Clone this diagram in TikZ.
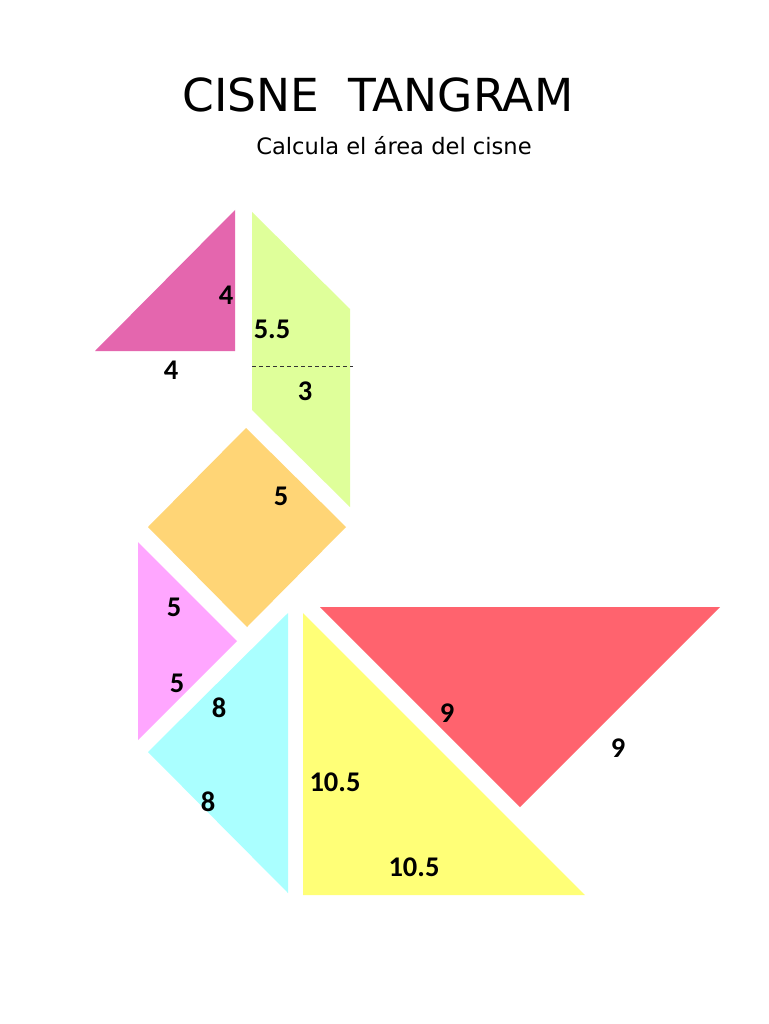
\documentclass[tikz,border=0pt]{standalone}
\usepackage{fontspec}
\setmainfont{DejaVu Sans}
\newfontfamily\numfont{Carlito}
\usepackage{tikz}
\usepackage{xcolor}
\definecolor{pinkA}{HTML}{E466AE}
\definecolor{greenA}{HTML}{DFFF9A}
\definecolor{orangeA}{HTML}{FFD576}
\definecolor{violetA}{HTML}{FFA6FF}
\definecolor{cyanA}{HTML}{AAFFFF}
\definecolor{yellowA}{HTML}{FFFF77}
\definecolor{redA}{HTML}{FF636E}

\begin{document}
\begin{tikzpicture}[x=1pt,y=-1pt]
\tikzstyle{every node}+=[inner sep=0pt]
\tikzstyle{num}=[font=\numfont\bfseries\fontsize{28.5}{28.5}\selectfont]
\useasboundingbox (0,0) rectangle (768,1024);
\fill [white] (0,0) rectangle (768,1024);
\node (title) at (378,95) {\fontsize{45.5}{45.5}\selectfont CISNE\ \ TANGRAM};
\node (subtitle) at (394,146) {\fontsize{22.6}{22.6}\selectfont Calcula el área del cisne};
% head
\fill [pinkA] (235,210) -- (235,351) -- (95,351) -- cycle;
\node [num] (h1) at (226,295) {4};
\node [num] (h2) at (171,370) {4};
% neck
\fill [greenA] (252,212) -- (350,309) -- (350,507) -- (252,410) -- cycle;
\draw [black!80, dashed, dash pattern=on 4pt off 3pt] (252,366) -- (353,366);
\node [num] (n1) at (272,329) {5.5};
\node [num] (n2) at (305,391) {3};
% body
\fill [orangeA] (246,428) -- (346,527) -- (247,627) -- (148,527) -- cycle;
\node [num] (s1) at (281,496) {5};
\fill [violetA] (138,542) -- (237,641) -- (138,740) -- cycle;
\node [num] (v1) at (174,607) {5};
\node [num] (v2) at (177,683) {5};
\fill [cyanA] (288,613) -- (288,893) -- (148,752) -- cycle;
\node [num] (c1) at (219,708) {8};
\node [num] (c2) at (208,802) {8};
\fill [yellowA] (303,613) -- (585,895) -- (303,895) -- cycle;
\node [num] (y1) at (335,782) {10.5};
\node [num] (y2) at (414,867) {10.5};
\fill [redA] (320,607) -- (720,607) -- (520,807) -- cycle;
\node [num] (r1) at (447,713) {9};
\node [num] (r2) at (618,748) {9};
\end{tikzpicture}
\end{document}
